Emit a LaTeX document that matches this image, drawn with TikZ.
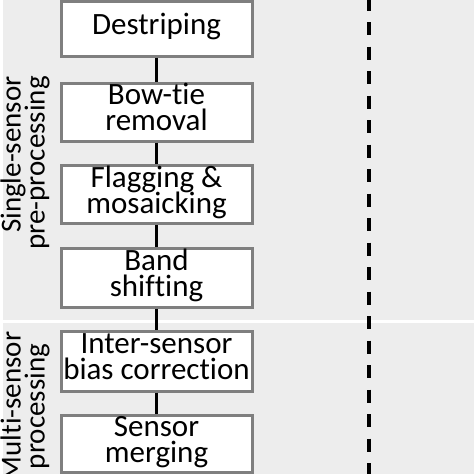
\documentclass[tikz,border=0pt]{standalone}
\usepackage{fontspec}
\setmainfont{Carlito}[Ligatures=NoCommon]
\definecolor{bandgray}{HTML}{EDEDED}
\definecolor{boxgray}{HTML}{7F7F7F}
\newcommand\boxtop{\rule{0pt}{20.5pt}}
\newcommand\boxbot{\rule[-10pt]{0pt}{10pt}}
\newcommand\labtop{\rule{0pt}{21pt}}
\newcommand\labbot{\rule[-7pt]{0pt}{7pt}}
\begin{document}
\begin{tikzpicture}[x=1pt,y=-1pt,
  stepbox/.style={draw=boxgray, line width=3pt, fill=white, inner sep=0pt,
    minimum width=191pt, align=center,
    font=\fontsize{31pt}{26pt}\selectfont\lineskiplimit-50pt},
  grouplabel/.style={inner sep=0pt, rotate=90,
    font=\fontsize{29pt}{24pt}\selectfont\lineskiplimit-50pt},
  link/.style={line width=3pt, black},
  divider/.style={line width=3.5pt, black, dash pattern=on 13pt off 11.5pt}]
\useasboundingbox (0,0) rectangle (474,474);
\fill[white] (0,0) rectangle (474,474);
\fill[bandgray] (3,-5) rectangle (480,320);
\fill[bandgray] (3,323) rectangle (480,480);

\node[stepbox, minimum height=55pt] (b1) at (156.5,28.5) {\boxtop Destriping\boxbot};
\node[stepbox, minimum height=58pt] (b2) at (156.5,112) {\boxtop Bow-tie\\removal\boxbot};
\node[stepbox, minimum height=57pt] (b3) at (156.5,194.5) {\boxtop Flagging \&\\mosaicking\boxbot};
\node[stepbox, minimum height=59pt] (b4) at (156.5,277.5) {\boxtop Band\\shifting\boxbot};
\node[stepbox, minimum height=60pt] (b5) at (156.5,361) {\boxtop Inter-sensor\\bias correction\boxbot};
\node[stepbox, minimum height=56pt] (b6) at (156.5,444) {\boxtop Sensor\\merging\boxbot};

\draw[link] (b1.south) -- (b2.north);
\draw[link] (b2.south) -- (b3.north);
\draw[link] (b3.south) -- (b4.north);
\draw[link] (b4.south) -- (b5.north);
\draw[link] (b5.south) -- (b6.north);

\node[grouplabel, align=right] (lab1) at (25.5,163) {\labtop Single-sensor\\pre-processing\labbot};
\node[grouplabel, align=center] (lab2) at (25.5,406.5) {\labtop Multi-sensor\\processing\labbot};

\coordinate (dtop) at (369,-2.5);
\coordinate (dbot) at (369,480);
\draw[divider] (dtop) -- (dbot);
\end{tikzpicture}
\end{document}
